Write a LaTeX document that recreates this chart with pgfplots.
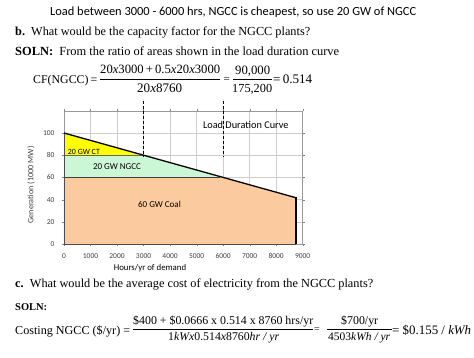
\documentclass[border=0pt]{standalone}
\usepackage{fontspec}
\setmainfont{Liberation Serif}
\newfontfamily\carlito{Carlito}
\usepackage{graphicx}
\usepackage{pgfplots}
\pgfplotsset{compat=1.18}
\definecolor{ctyellow}{RGB}{255,255,0}
\definecolor{ngccgreen}{RGB}{204,247,214}
\definecolor{coalpeach}{RGB}{251,202,158}
\definecolor{gridgray}{RGB}{205,205,205}
\definecolor{ticktext}{RGB}{64,64,64}
\newcommand{\rb}[2]{\resizebox{#1pt}{!}{#2}}
\begin{document}
\begin{tikzpicture}[x=1pt,y=1pt]
\path[use as bounding box] (0,0) rectangle (474,-357);
% ---- text above ----
\node[anchor=base west,inner sep=0] at (50,-15) {\rb{366}{\carlito\fontsize{13}{15}\selectfont Load between 3000 - 6000 hrs, NGCC is cheapest, so use 20 GW of NGCC}};
\node[anchor=base west,inner sep=0] at (15,-35.7) {\rb{295}{\fontsize{12}{14}\selectfont\textbf{b.}\ \ What would be the capacity factor for the NGCC plants?}};
\node[anchor=base west,inner sep=0] at (15,-55) {\rb{324}{\fontsize{12}{14}\selectfont\textbf{SOLN:}\ \ From the ratio of areas shown in the load duration curve}};
% equation 1
\node[anchor=base west,inner sep=0] at (33,-83) {\rb{64}{\fontsize{12}{14}\selectfont CF(NGCC)\,=}};
\node[anchor=base west,inner sep=0] at (100,-73) {\rb{120}{\fontsize{11}{13}\selectfont 20\textit{x}3000\,+\,0.5\textit{x}20\textit{x}3000}};
\draw[line width=0.6pt] (100,-79) -- (220,-79);
\node[anchor=base west,inner sep=0] at (137,-92) {\rb{45}{\fontsize{11}{13}\selectfont 20\textit{x}8760}};
\node[anchor=base west,inner sep=0,font=\fontsize{11}{13}\selectfont] at (223.5,-82) {=};
\node[anchor=base west,inner sep=0] at (235,-74) {\rb{35}{\fontsize{11}{13}\selectfont 90,000}};
\draw[line width=0.6pt] (233,-79) -- (272,-79);
\node[anchor=base west,inner sep=0] at (232,-92) {\rb{40}{\fontsize{11}{13}\selectfont 175,200}};
\node[anchor=base west,inner sep=0] at (273,-83) {\rb{39}{\fontsize{11}{13}\selectfont =\,0.514}};
% ---- text below ----
\node[anchor=base west,inner sep=0] at (15,-287.3) {\rb{358}{\fontsize{12}{14}\selectfont\textbf{c.}\ \ What would be the average cost of electricity from the NGCC plants?}};
\node[anchor=base west,inner sep=0] at (15,-310) {\rb{32}{\fontsize{12}{14}\selectfont\textbf{SOLN:}}};
\node[anchor=base west,inner sep=0] at (15,-334) {\rb{115}{\fontsize{11}{13}\selectfont Costing NGCC (\$/yr) =}};
\node[anchor=base west,inner sep=0] at (133,-324) {\rb{180}{\fontsize{11}{13}\selectfont \$400 + \$0.0666 x 0.514 x 8760 hrs/yr}};
\draw[line width=0.6pt] (133,-329) -- (313,-329);
\node[anchor=base west,inner sep=0] at (168,-340.7) {\rb{111}{\fontsize{11}{13}\selectfont 1\textit{kWx}0.514\textit{x}8760\textit{hr / yr}}};
\node[anchor=base west,inner sep=0,font=\fontsize{10}{12}\selectfont] at (314,-332) {=};
\node[anchor=base west,inner sep=0] at (341,-324) {\rb{37}{\fontsize{11}{13}\selectfont \$700/yr}};
\draw[line width=0.6pt] (327,-329) -- (392,-329);
\node[anchor=base west,inner sep=0] at (328,-340.7) {\rb{62}{\fontsize{11}{13}\selectfont 4503\textit{kWh / yr}}};
\node[anchor=base west,inner sep=0] at (392,-334) {\rb{79}{\fontsize{11}{13}\selectfont = \$0.155 / \textit{kWh}}};
% ---- chart ----
\begin{axis}[at={(64pt,-244pt)}, anchor=south west, scale only axis,
  width=238.7pt, height=133.2pt,
  xmin=0, xmax=9000, ymin=0, ymax=120,
  xtick={0,1000,...,9000}, ytick={0,20,...,100},
  grid=major, major grid style={gridgray, line width=0.5pt},
  axis line style={gray!80}, tick style={gray}, tick align=outside,
  major tick length=2pt,
  tick label style={font=\fontsize{7.5}{9}\selectfont\carlito, text=ticktext},
  /pgf/number format/assume math mode=true, /pgf/number format/1000 sep={},
  xticklabel style={yshift=-4pt},
  yticklabel style={xshift=-4pt},
  clip=false]
\addplot[fill=coalpeach, draw=none] coordinates {(0,0) (0,60) (6000,60) (8760,41.6) (8760,0)} -- cycle;
\addplot[fill=ngccgreen, draw=none] coordinates {(0,60) (0,80) (3000,80) (6000,60)} -- cycle;
\addplot[fill=ctyellow, draw=none] coordinates {(0,80) (0,100) (3000,80)} -- cycle;
\addplot[black!75, line width=0.8pt] coordinates {(0,60) (5880,60)};
\addplot[black!60, line width=0.6pt] coordinates {(0,80) (3000,80)};
\addplot[black!70, line width=0.8pt] coordinates {(0,100) (0,0) (8760,0)};
\addplot[black, line width=1.3pt] coordinates {(0,100) (8760,41.6)};
\addplot[black, line width=1.8pt] coordinates {(8760,42) (8760,0)};
\addplot[black, densely dashed, line width=0.7pt] coordinates {(3000,129) (3000,78)};
\addplot[black, densely dashed, line width=0.7pt] coordinates {(6000,129) (6000,78)};
\node[font=\fontsize{8}{10}\selectfont\carlito] at (axis cs:750,83) {20 GW CT};
\node[font=\fontsize{9}{11}\selectfont\carlito] at (axis cs:2000,69.5) {20 GW NGCC};
\node[font=\fontsize{9}{11}\selectfont\carlito] at (axis cs:3600,36) {60 GW Coal};
\node[font=\fontsize{10.3}{12}\selectfont\carlito] at (axis cs:6855,107.5) {Load Duration Curve};
\end{axis}
\node[rotate=90,font=\fontsize{8.2}{10}\selectfont\carlito, text=ticktext] at (31,-185) {Generation (1000 MW)};
\node[font=\fontsize{8.8}{10}\selectfont\carlito] at (150,-268) {Hours/yr of demand};
\end{tikzpicture}
\end{document}
